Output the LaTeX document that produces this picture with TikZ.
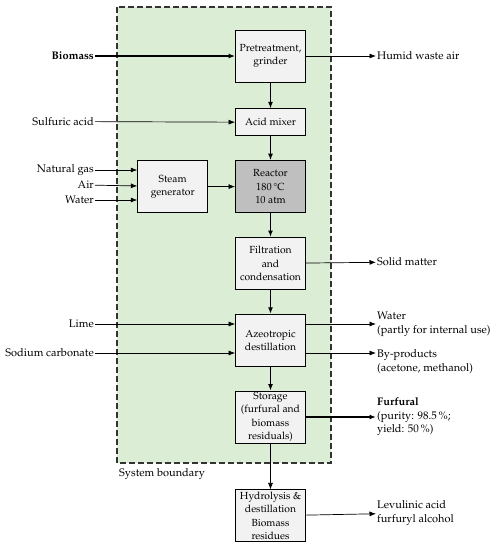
\documentclass[tikz,border=0pt]{standalone}
\usepackage[T1]{fontenc}
\usepackage{mathpazo}
\usepackage{tikz}
\usetikzlibrary{positioning, arrows.meta}
\definecolor{boundgreen}{HTML}{DCEDD6}
\definecolor{boxgray}{HTML}{F2F2F2}
\definecolor{hotgray}{HTML}{BFBFBF}
\tikzset{
  >={Latex[length=6.5pt,width=5pt]},
  node distance=24pt,
  every node/.style={font=\fontsize{11}{13.5}\selectfont},
  unit/.style={draw, line width=0.8pt, fill=boxgray, minimum width=70pt,
    minimum height=52pt, align=center, inner sep=1pt,
    font=\fontsize{10.3}{13.3}\selectfont},
  lbl/.style={inner sep=1pt, align=left},
  flow/.style={->, line width=0.7pt},
  mainflow/.style={->, line width=1.3pt},
}

\begin{document}
\begin{tikzpicture}[x=1pt,y=-1pt]
  \useasboundingbox (0,0) rectangle (496,550);

  % system boundary
  \draw[line width=1.1pt, dash pattern=on 6pt off 3pt, draw=black!80, fill=boundgreen] (117,7) rectangle (331,463);
  \node[lbl, anchor=west] (sysb) at (118,474) {System boundary};

  % units
  \node[unit] (pre) at (270.5,56) {Pretreatment,\\grinder};
  \node[unit, minimum height=27pt, below=26pt of pre] (mix) {Acid mixer};
  \node[unit, fill=hotgray, below=of mix] (reac) {Reactor\\180\,\textdegree C\\10 atm};
  \node[unit, left=27pt of reac] (steam) {Steam\\generator};
  \node[unit, below=of reac] (filt) {Filtration\\and\\condensation};
  \node[unit, below=of filt] (azeo) {Azeotropic\\destillation};
  \node[unit, below=of azeo] (stor) {Storage\\(furfural and\\biomass\\residuals)};
  \node[unit, below=46pt of stor] (hydro) {Hydrolysis \&\\destillation\\Biomass\\residues};

  % inputs
  \node[lbl, anchor=east] (bio) at (95,56) {\textbf{Biomass}};
  \node[lbl, anchor=east] (sulf) at (95,121.5) {Sulfuric acid};
  \node[lbl, anchor=east] (gas) at (95,170) {Natural gas};
  \node[lbl, anchor=east] (air) at (95,185) {Air};
  \node[lbl, anchor=east] (wat) at (95,200) {Water};
  \node[lbl, anchor=east] (lime) at (95,324) {Lime};
  \node[lbl, anchor=east] (soda) at (95,353) {Sodium carbonate};

  % outputs
  \node[lbl, anchor=west] (hum) at (376,56) {Humid waste air};
  \node[lbl, anchor=west] (solid) at (376,262) {Solid matter};
  \node[lbl, anchor=west] (wout) at (376,324) {Water\\(partly for internal use)};
  \coordinate (byp) at (376,353);
  \node[lbl, anchor=west] (bytxt) at (376,361.5) {By-products\\(acetone, methanol)};
  \node[lbl, anchor=west] (furf) at (376,417) {\textbf{Furfural}\\(purity: 98.5\,\%;\\yield: 50\,\%)};
  \node[lbl, anchor=west] (levu) at (376,513) {Levulinic acid\\furfuryl alcohol};

  % main line
  \draw[mainflow] (pre) -- (mix);
  \draw[mainflow] (mix) -- (reac);
  \draw[mainflow] (reac) -- (filt);
  \draw[mainflow] (filt) -- (azeo);
  \draw[mainflow] (azeo) -- (stor);
  \draw[flow] (stor) -- (hydro);

  % streams in
  \draw[mainflow] (bio) -- (pre);
  \draw[flow] (sulf) -- (mix);
  \draw[flow] (gas) -- (gas -| steam.west);
  \draw[flow] (air) -- (steam);
  \draw[flow] (wat) -- (wat -| steam.west);
  \draw[flow] (steam) -- (reac);
  \draw[flow] (lime) -- (lime -| azeo.west);
  \draw[flow] (soda) -- (soda -| azeo.west);

  % streams out
  \draw[flow] (pre) -- (hum);
  \draw[flow] (filt) -- (solid);
  \draw[flow] (wout.west -| azeo.east) -- (wout.west);
  \draw[flow] (byp -| azeo.east) -- (byp);
  \draw[mainflow] (stor.east) -- (stor.east -| furf.west);
  \draw[flow] (hydro) -- (levu);
\end{tikzpicture}
\end{document}
